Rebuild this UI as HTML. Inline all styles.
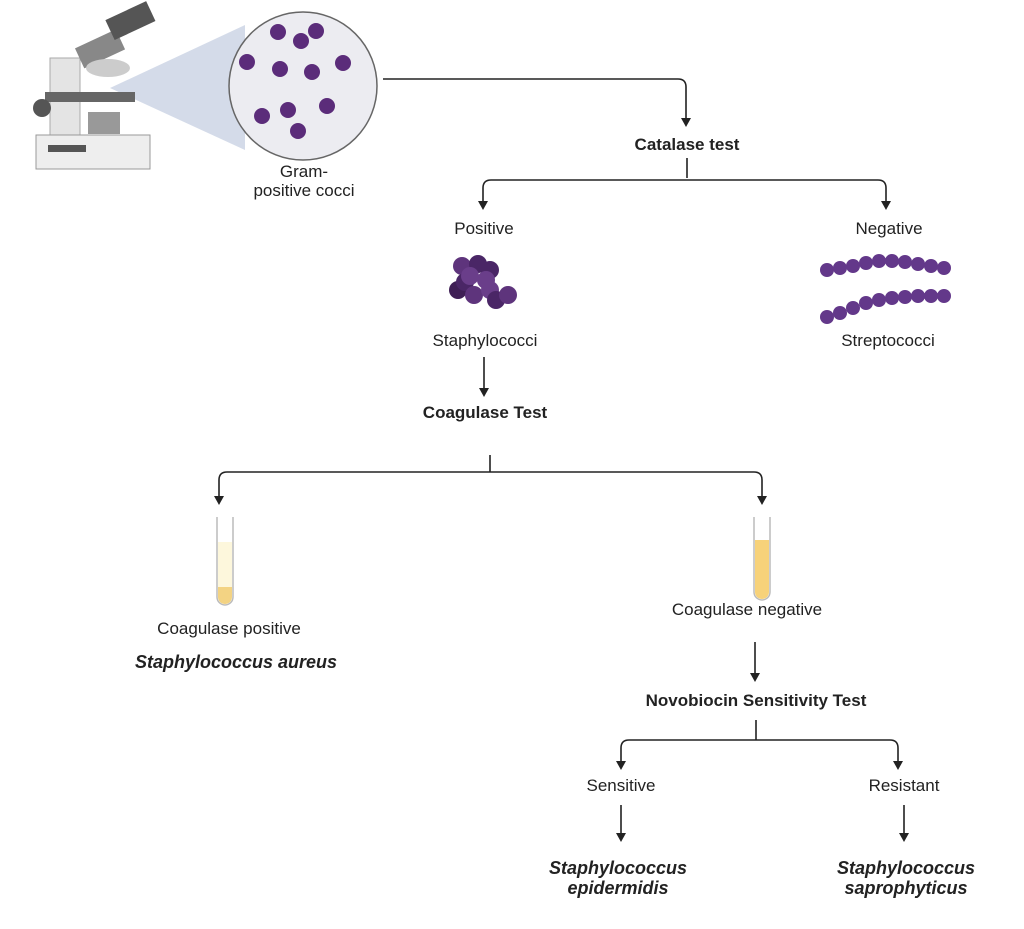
<!DOCTYPE html>
<html><head><style>
body{margin:0;background:#fff;width:1024px;height:924px;overflow:hidden}
svg text{font-family:"Liberation Sans",sans-serif;fill:#222;font-size:17px}
.b{font-weight:bold}
.bi{font-weight:bold;font-style:italic;font-size:18px}
</style></head><body>
<svg width="1024" height="924" viewBox="0 0 1024 924">
<g stroke="#222" stroke-width="1.6" fill="none">
<path d="M383,79 H678 Q686,79 686,87 V124"/>
<path d="M687,158 V178 M483,208 V188 Q483,180 491,180 H878 Q886,180 886,188 V208"/>
<path d="M484,357 V394"/>
<path d="M490,455 V472 M219,503 V480 Q219,472 227,472 H754 Q762,472 762,480 V503"/>
<path d="M755,642 V680"/>
<path d="M756,720 V740 M621,768 V748 Q621,740 629,740 H890 Q898,740 898,748 V768"/>
<path d="M621,805 V840 M904,805 V840"/>
</g>
<g fill="#222">
<path d="M681,118 L691,118 L686,127z"/>
<path d="M478,201 L488,201 L483,210z"/><path d="M881,201 L891,201 L886,210z"/>
<path d="M479,388 L489,388 L484,397z"/>
<path d="M214,496 L224,496 L219,505z"/><path d="M757,496 L767,496 L762,505z"/>
<path d="M750,673 L760,673 L755,682z"/>
<path d="M616,761 L626,761 L621,770z"/><path d="M893,761 L903,761 L898,770z"/>
<path d="M616,833 L626,833 L621,842z"/><path d="M899,833 L909,833 L904,842z"/>
</g>
<!-- microscope -->
<polygon points="110,88 245,25 245,150" fill="#c9d2e3" opacity="0.8"/>
<rect x="50" y="58" width="30" height="80" fill="#e4e4e4" stroke="#aaa"/>
<rect x="78" y="38" width="45" height="22" fill="#888" transform="rotate(-25 100 50)"/>
<rect x="108" y="12" width="45" height="22" fill="#555" transform="rotate(-25 125 22)"/>
<ellipse cx="108" cy="68" rx="22" ry="9" fill="#ccc"/>
<rect x="45" y="92" width="90" height="10" fill="#666"/>
<circle cx="42" cy="108" r="9" fill="#555"/>
<rect x="88" y="112" width="32" height="22" fill="#999"/>
<rect x="36" y="135" width="114" height="34" fill="#eee" stroke="#999"/>
<rect x="48" y="145" width="38" height="7" fill="#555"/>
<circle cx="303" cy="86" r="74" fill="#ececf1" stroke="#666" stroke-width="1.5"/>
<g fill="#5b2c7a">
<circle cx="278" cy="32" r="8"/><circle cx="301" cy="41" r="8"/><circle cx="316" cy="31" r="8"/>
<circle cx="247" cy="62" r="8"/><circle cx="280" cy="69" r="8"/><circle cx="312" cy="72" r="8"/><circle cx="343" cy="63" r="8"/>
<circle cx="262" cy="116" r="8"/><circle cx="288" cy="110" r="8"/><circle cx="327" cy="106" r="8"/><circle cx="298" cy="131" r="8"/>
</g>
<text x="304" y="177" text-anchor="middle">Gram-</text>
<text x="304" y="196" text-anchor="middle">positive cocci</text>
<text x="687" y="150" text-anchor="middle" class="b">Catalase test</text>
<text x="484" y="234" text-anchor="middle">Positive</text>
<text x="889" y="234" text-anchor="middle">Negative</text>
<g fill="#5e347c">
<circle cx="458" cy="290" r="9" fill="#3f1f55"/><circle cx="462" cy="266" r="9"/><circle cx="478" cy="264" r="9" fill="#4a2666"/><circle cx="490" cy="270" r="9" fill="#4a2666"/>
<circle cx="465" cy="282" r="9" fill="#4a2666"/><circle cx="470" cy="276" r="9" fill="#6a3e8a"/><circle cx="486" cy="280" r="9" fill="#6a3e8a"/>
<circle cx="474" cy="295" r="9"/><circle cx="490" cy="290" r="9" fill="#6a3e8a"/><circle cx="496" cy="300" r="9" fill="#4a2666"/><circle cx="508" cy="295" r="9"/>
</g>
<g fill="#63388a">
<circle cx="827" cy="270" r="7"/><circle cx="840" cy="268" r="7"/><circle cx="853" cy="266" r="7"/><circle cx="866" cy="263" r="7"/><circle cx="879" cy="261" r="7"/><circle cx="892" cy="261" r="7"/><circle cx="905" cy="262" r="7"/><circle cx="918" cy="264" r="7"/><circle cx="931" cy="266" r="7"/><circle cx="944" cy="268" r="7"/>
<circle cx="827" cy="317" r="7"/><circle cx="840" cy="313" r="7"/><circle cx="853" cy="308" r="7"/><circle cx="866" cy="303" r="7"/><circle cx="879" cy="300" r="7"/><circle cx="892" cy="298" r="7"/><circle cx="905" cy="297" r="7"/><circle cx="918" cy="296" r="7"/><circle cx="931" cy="296" r="7"/><circle cx="944" cy="296" r="7"/>
</g>
<text x="485" y="346" text-anchor="middle">Staphylococci</text>
<text x="888" y="346" text-anchor="middle">Streptococci</text>
<text x="485" y="418" text-anchor="middle" class="b">Coagulase Test</text>
<path d="M217,517 V597 A8,8 0 0 0 233,597 V517" fill="#fff" stroke="#bbb" stroke-width="1.5"/>
<rect x="218" y="542" width="14" height="45" fill="#fdf7dc"/>
<path d="M218,587 H232 V597 A7,7 0 0 1 218,597z" fill="#f3d383"/>
<path d="M754,517 V592 A8,8 0 0 0 770,592 V517" fill="#fff" stroke="#bbb" stroke-width="1.5"/>
<path d="M755,540 H769 V592 A7,7 0 0 1 755,592z" fill="#f7d27a"/>
<text x="229" y="634" text-anchor="middle">Coagulase positive</text>
<text x="236" y="668" text-anchor="middle" class="bi">Staphylococcus aureus</text>
<text x="747" y="615" text-anchor="middle">Coagulase negative</text>
<text x="756" y="706" text-anchor="middle" class="b">Novobiocin Sensitivity Test</text>
<text x="621" y="791" text-anchor="middle">Sensitive</text>
<text x="904" y="791" text-anchor="middle">Resistant</text>
<text x="618" y="874" text-anchor="middle" class="bi">Staphylococcus</text>
<text x="618" y="894" text-anchor="middle" class="bi">epidermidis</text>
<text x="906" y="874" text-anchor="middle" class="bi">Staphylococcus</text>
<text x="906" y="894" text-anchor="middle" class="bi">saprophyticus</text>
</svg>
</body></html>
